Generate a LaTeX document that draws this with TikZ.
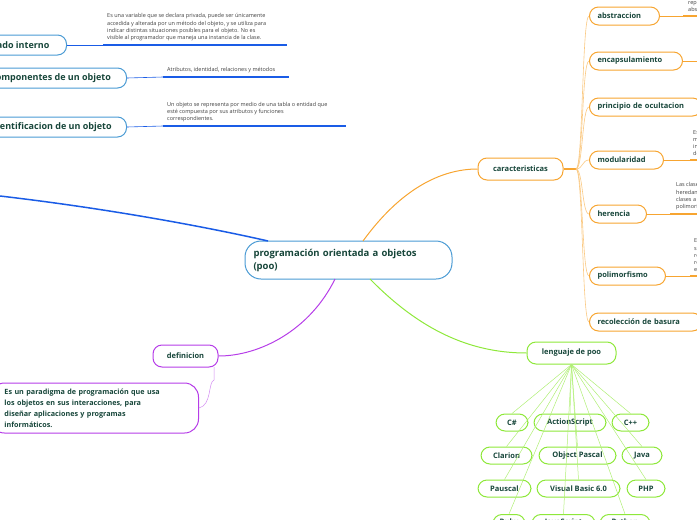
\documentclass[tikz,border=0pt]{standalone}
\usepackage{fontspec}
\setmainfont{Open Sans}
\begin{document}
\begin{tikzpicture}[x=1pt,y=-1pt,
  txt/.style={text=dtxt,font=\fontsize{7.5}{9}\selectfont\bfseries},
  bx/.style={draw,rounded corners=9pt,line width=1pt,fill=white,inner sep=0pt,txt},
  small/.style={text=black!75,font=\fontsize{5.5}{7.2}\selectfont,align=left,anchor=south west,inner sep=0pt}]
\definecolor{dtxt}{HTML}{17463A}
\definecolor{cblue}{HTML}{1A5CE6}
\definecolor{cmain}{HTML}{4A9BD4}
\definecolor{corange}{HTML}{F7A531}
\definecolor{cgreen}{HTML}{8EE83A}
\definecolor{cpurple}{HTML}{B63DE8}
\useasboundingbox (0,0) rectangle (697,520);
% main
\node[bx,draw=cmain,minimum width=207pt,minimum height=38pt,rounded corners=16pt,text width=190pt,align=left,font=\fontsize{9.5}{13}\selectfont\bfseries] (main) at (348.5,260) {programación orientada a objetos\\(poo)};
% blue
\draw[cblue,line width=1.5pt] (0,196) .. controls (120,210) and (220,230) .. (268,241);
\tikzset{bl/.style={bx,draw=cmain,minimum height=20pt,anchor=east,font=\fontsize{9}{11}\selectfont\bfseries}}
\node[bl,minimum width=120pt] (e1) at (67,45) {\hspace*{20pt}Estado interno};
\node[bl,minimum width=180pt] (e2) at (127,78) {\hspace*{28pt}Componentes de un objeto};
\node[bl,minimum width=180pt] (e3) at (127,127) {\hspace*{30pt}Identificacion de un objeto};
\coordinate (u1a) at (103,45); \coordinate (u1b) at (287,45);
\coordinate (u2a) at (163,77); \coordinate (u2b) at (289,77);
\coordinate (u3a) at (163,126); \coordinate (u3b) at (346,126);
\draw[cblue,line width=0.6pt] (e1.east) -- (u1a); \draw[cblue,line width=1.3pt] (u1a) -- (u1b);
\draw[cblue,line width=0.6pt] (e2.east) -- (u2a); \draw[cblue,line width=1.3pt] (u2a) -- (u2b);
\draw[cblue,line width=0.6pt] (e3.east) -- (u3a); \draw[cblue,line width=1.3pt] (u3a) -- (u3b);
\node[small] (t1) at (107,41) {Es una variable que se declara privada, puede ser únicamente\\accedida y alterada por un método del objeto, y se utiliza para\\indicar distintas situaciones posibles para el objeto. No es\\visible al programador que maneja una instancia de la clase.};
\node[small] (t2) at (167,73) {Atributos, identidad, relaciones y métodos};
\node[small] (t3) at (167,122) {Un objeto se representa por medio de una tabla o entidad que\\esté compuesta por sus atributos y funciones\\correspondientes.};
% orange
\node[bx,draw=corange,minimum width=85pt,minimum height=22pt] (car) at (520.5,169) {caracteristicas};
\draw[corange,line width=1pt] (363,241) .. controls (400,190) and (440,169) .. (car.west);
\coordinate (hub) at (576,169);
\draw[corange,line width=1.5pt] (car.east) -- (hub);
\foreach \n/\t/\w/\y in {a1/abstraccion/70/16,a2/encapsulamiento/93/61,a3/principio de ocultacion/112/107,a4/modularidad/74/160,a5/herencia/57/214,a6/polimorfismo/76/276,a7/recolección de basura/112/322}{
  \node[bx,draw=corange,minimum width=\w pt,minimum height=18pt,anchor=west,align=left,text width=\w pt-16pt] (\n) at (589,\y) {\t};
  \draw[corange!60,line width=0.6pt] (hub) .. controls (583,169) and (582,\y) .. (\n.west);
}
\coordinate (o1) at (683,16); \coordinate (o4) at (690,160); \coordinate (o5) at (670,214); \coordinate (o6) at (690,276);
\coordinate (o1e) at (697,16); \coordinate (o2e) at (697,61); \coordinate (o4e) at (697,160); \coordinate (o5e) at (697,214); \coordinate (o6e) at (697,276);
\draw[corange,line width=0.6pt] (a1.east) -- (o1); \draw[corange,line width=1.3pt] (o1) -- (o1e);
\draw[corange,line width=0.6pt] (a2.east) -- (o2e);
\draw[corange,line width=0.6pt] (a4.east) -- (o4); \draw[corange,line width=1.3pt] (o4) -- (o4e);
\draw[corange,line width=0.6pt] (a5.east) -- (o5); \draw[corange,line width=1.3pt] (o5) -- (o5e);
\draw[corange,line width=0.6pt] (a6.east) -- (o6); \draw[corange,line width=1.3pt] (o6) -- (o6e);
\node[small] (s1) at (688,12) {representa\\abstracción};
\node[small] (s4) at (693,156) {Es\\mo\\in\\de};
\node[small] (s5) at (676,210) {Las clases\\heredan\\clases a\\polimorfismo};
\node[small] (s6) at (694,272) {Es\\se\\re\\re\\en};
% green
\node[bx,draw=cgreen,minimum width=89pt,minimum height=22pt] (len) at (571.5,353) {lenguaje de poo};
\draw[cgreen,line width=1pt] (370,279) .. controls (420,330) and (470,353) .. (len.west);
\foreach \n/\t/\x/\w/\y in {g1/C\#/512/32/422.5,g2/ActionScript/570/72/422.5,g3/C++/630.5/37/422.5,g4/Clarion/506.5/51/455.5,g5/Object Pascal/577.5/77/455.5,g6/Java/642/40/455.5,g7/Pauscal/504.5/53/488.5,g8/Visual Basic 6.0/578.5/83/488.5,g9/PHP/646/38/488.5,g10/Ruby/509/32/523,g11/JavaScript/563.5/63/523,g12/Python/625/50/523}{
  \node[bx,draw=cgreen,minimum width=\w pt,minimum height=17pt] (\n) at (\x,\y) {\t};
  \draw[cgreen!70,line width=0.5pt] (len.south) -- (\n.north);
}
% purple
\node[bx,draw=cpurple,minimum width=65pt,minimum height=22pt] (def) at (185.5,356) {definicion};
\draw[cpurple,line width=1pt] (335,279) .. controls (310,330) and (260,356) .. (def.east);
\node[bx,draw=cpurple,rounded corners=14pt,minimum width=208pt,minimum height=50pt,text width=180pt,align=left,anchor=east,font=\fontsize{7.2}{11}\selectfont\bfseries] (dtx) at (199,408) {Es un paradigma de programación que usa\\los objetos en sus interacciones, para\\diseñar aplicaciones y programas\\informáticos.};
\draw[cpurple!60,line width=0.5pt] (214,367) -- (214,380) .. controls (208,382) and (212,405) .. (dtx.east);
\end{tikzpicture}
\end{document}
